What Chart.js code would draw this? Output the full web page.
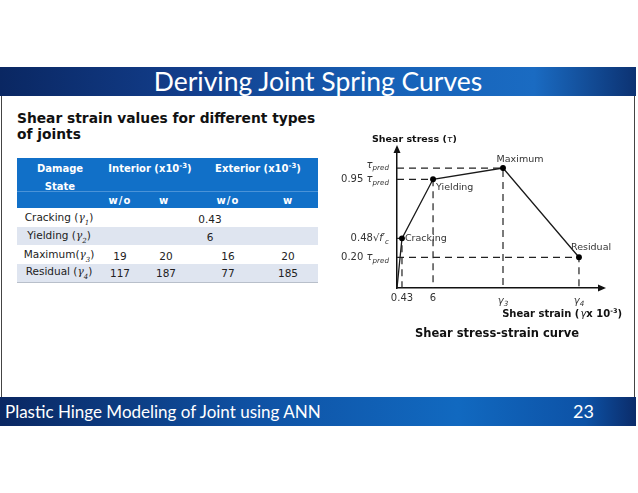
<!DOCTYPE html>
<html>
<head>
<meta charset="utf-8">
<script src="https://cdn.jsdelivr.net/npm/chart.js@4/dist/chart.umd.min.js"></script>
<style>
  html, body { margin: 0; padding: 0; background: #fff; }
  body { width: 638px; height: 493px; position: relative; overflow: hidden; font-family: "DejaVu Sans", sans-serif; }
  .frame { position: absolute; left: 1px; top: 67px; width: 632px; height: 358px; border-left: 1.5px solid #444; border-right: 1.5px solid #444; }
  .titlebar { position: absolute; left: 0; top: 67px; width: 636px; height: 29px;
    background: linear-gradient(90deg, #0a2762 0%, #123e8c 30%, #1762b8 62%, #1a6bc2 84%, #0c3272 100%);
    color: #fff; font-family: Lato, sans-serif; font-size: 26.5px; line-height: 29px; text-align: center; }
  .footer { position: absolute; left: 0; top: 397px; width: 636px; height: 29px;
    background: linear-gradient(90deg, #0a2762 0%, #0f52a4 40%, #1169c0 72%, #0d52a6 92%, #0b2c6a 100%);
    color: #fff; font-family: Lato, sans-serif; font-size: 17px; line-height: 29px; }
  .footer .left { position: absolute; left: 5px; }
  .footer .num { position: absolute; left: 573px; font-size: 18px; }
  .heading { position: absolute; left: 17px; top: 110px; font-weight: bold; font-size: 13.8px; line-height: 16px; color: #111; }
  .tbl { position: absolute; left: 17px; top: 158px; width: 301px; height: 124px; font-size: 10.5px; }
  .band { position: absolute; left: 0; width: 301px; }
  .t { position: absolute; transform: translate(-50%, -50%); white-space: nowrap; }
  .hd { color: #fff; font-weight: bold; font-size: 10px; }
  .hd.w { letter-spacing: 1px; }
  .body { color: #222; }
  i { font-family: "DejaVu Serif", serif; }
  sub { font-size: 7px; }
  sup { font-size: 7px; }
  #chartBox { position: absolute; left: 330px; top: 125px; width: 308px; height: 225px; }
</style>
</head>
<body>
<div class="frame"></div>
<div class="titlebar">Deriving Joint Spring Curves</div>
<div class="footer"><span class="left">Plastic Hinge Modeling of Joint using ANN</span><span class="num">23</span></div>
<div class="heading">Shear strain values for different types<br>of joints</div>
<div class="tbl" id="tbl"></div>
<div id="chartBox"><canvas id="curve"></canvas></div>
<script>
// ---- table data (x10^-3) ----
const stateNames = ['Cracking', 'Yielding', 'Maximum', 'Residual'];
const jointCols = ['w/o', 'w', 'w/o', 'w'];
const crackingStrain = 0.43;
const yieldingStrain = 6;
const maximumStrain = [19, 20, 16, 20];
const residualStrain = [117, 187, 77, 185];

// ---- schematic curve (not to scale) ----
const curveStrain = [0, 0.58, 4.2, 12.35, 21.2];   // position along strain axis
const curveStress = [0, 0.414, 0.906, 1.0, 0.256]; // in units of tau_pred
const strainTickLabels = ['0.43', '6', 'γ_3', 'γ_4'];
const stressTickLabels = ['0.48√f′_c', '0.95 τ_pred', 'τ_pred', '0.20 τ_pred'];

// build the table
const tbl = document.getElementById('tbl');
const colX = [42, 103, 149, 211, 271];
function cell(html, x, y, cls) {
  const d = document.createElement('div');
  d.className = 't ' + cls;
  d.style.left = x + 'px';
  d.style.top = y + 'px';
  d.innerHTML = html;
  tbl.appendChild(d);
}
function band(top, h, color) {
  const d = document.createElement('div');
  d.className = 'band';
  d.style.top = top + 'px';
  d.style.height = h + 'px';
  d.style.background = color;
  tbl.appendChild(d);
}
band(0, 50, '#1170c8');
band(33, 1, '#4a93d8');
band(69, 18, '#dfe5f0');
band(106, 18, '#dfe5f0');
band(123.5, 0.8, '#b8bfca');
cell('Damage', colX[0] + 1, 10, 'hd');
cell('State', colX[0] + 1, 28, 'hd');
cell('Interior (x10<sup>-3</sup>)', 133, 10, 'hd');
cell('Exterior (x10<sup>-3</sup>)', 241, 10, 'hd');
jointCols.forEach((c, i) => cell(c, colX[i + 1] + (i === 1 ? -2 : 0), 42, 'hd w'));
const rowY = [61, 79, 97.5, 115];
stateNames.forEach((s, i) => {
  const gap = s === 'Maximum' ? '' : ' ';
  cell(s + gap + '(<i>γ</i><sub><i>' + (i + 1) + '</i></sub>)', colX[0], rowY[i], 'body');
});
cell(crackingStrain.toFixed(2), 193, rowY[0], 'body');
cell(String(yieldingStrain), 193, rowY[1], 'body');
maximumStrain.forEach((v, i) => cell(v, colX[i + 1], rowY[2], 'body'));
residualStrain.forEach((v, i) => cell(v, colX[i + 1], rowY[3], 'body'));

// ---- chart ----
const curvePoints = curveStrain.map((x, i) => ({ x: x, y: curveStress[i] }));
const guideSets = curvePoints.slice(1).map(p => ({
  data: [{ x: 0, y: p.y }, { x: p.x, y: p.y }, { x: p.x, y: 0 }],
  showLine: true,
  borderColor: '#222',
  borderWidth: 1.2,
  borderDash: [7, 5],
  pointRadius: 0,
  clip: false
}));

// draw "base_sub" labels with italic greek and subscript
function richParts(label) {
  const [main, sub] = label.split('_');
  const parts = [];
  let buf = '', it = false;
  for (const ch of main) {
    const isIt = /[τγf′]/.test(ch);
    if (isIt !== it && buf) { parts.push({ t: buf, it: it }); buf = ''; }
    it = isIt; buf += ch;
  }
  if (buf) parts.push({ t: buf, it: it });
  if (sub) parts.push({ t: sub, it: true, sub: true });
  return parts;
}
function drawRich(ctx, label, x, y, align, size) {
  const parts = richParts(label);
  const fontOf = p => (p.it ? 'italic ' : '') + (p.sub ? size * 0.72 : size) + 'px "DejaVu Sans"';
  let w = 0;
  parts.forEach(p => { ctx.font = fontOf(p); w += ctx.measureText(p.t).width; });
  let cx = align === 'right' ? x - w : align === 'center' ? x - w / 2 : x;
  ctx.textBaseline = 'middle';
  ctx.textAlign = 'left';
  parts.forEach(p => {
    ctx.font = fontOf(p);
    ctx.fillText(p.t, cx, p.sub ? y + size * 0.35 : y);
    cx += ctx.measureText(p.t).width;
  });
}

const labelOffsets = [[3, 0, 'left'], [3, 8, 'left'], [17, -9, 'center'], [-8, -10, 'left']];

const sketchPlugin = {
  id: 'sketch',
  afterDraw(chart) {
    const { ctx, chartArea: a, scales: { x, y } } = chart;
    ctx.save();
    ctx.fillStyle = '#111';
    // arrowheads
    ctx.beginPath();
    ctx.moveTo(a.right + 3, a.bottom); ctx.lineTo(a.right - 5, a.bottom - 3.5); ctx.lineTo(a.right - 5, a.bottom + 3.5);
    ctx.closePath(); ctx.fill();
    ctx.beginPath();
    ctx.moveTo(a.left, a.top - 3); ctx.lineTo(a.left - 3.5, a.top + 5); ctx.lineTo(a.left + 3.5, a.top + 5);
    ctx.closePath(); ctx.fill();
    ctx.fillStyle = '#333';
    // strain ticks
    strainTickLabels.forEach((l, i) => {
      const dy = l.indexOf('γ') >= 0 ? 13 : 10;
      drawRich(ctx, l, x.getPixelForValue(curveStrain[i + 1]), a.bottom + dy, 'center', 10);
    });
    // stress ticks
    stressTickLabels.forEach((l, i) => {
      const dy = i === 2 ? -3 : 0;
      drawRich(ctx, l, a.left - 8, y.getPixelForValue(curveStress[i + 1]) + dy, 'right', 10);
    });
    // state labels
    ctx.font = '9.5px "DejaVu Sans"';
    ctx.fillStyle = '#333';
    ctx.textBaseline = 'middle';
    stateNames.forEach((s, i) => {
      const o = labelOffsets[i];
      ctx.textAlign = o[2];
      ctx.fillText(s, x.getPixelForValue(curveStrain[i + 1]) + o[0], y.getPixelForValue(curveStress[i + 1]) + o[1]);
    });
    // axis titles and caption
    ctx.fillStyle = '#111';
    ctx.font = 'bold 9.5px "DejaVu Sans"';
    ctx.textAlign = 'left';
    ctx.fillText('Shear stress (', a.left - 25, a.top - 8);
    let tw = ctx.measureText('Shear stress (').width;
    ctx.font = 'italic 9.5px "DejaVu Sans"';
    ctx.fillText('τ', a.left - 25 + tw, a.top - 8);
    tw += ctx.measureText('τ').width;
    ctx.font = 'bold 9.5px "DejaVu Sans"';
    ctx.fillText(')', a.left - 25 + tw, a.top - 8);

    const xt = a.right + 19, yt = a.bottom + 26;
    ctx.font = 'bold 10px "DejaVu Sans"';
    ctx.textAlign = 'right';
    ctx.fillText(')', xt, yt);
    let r = xt - ctx.measureText(')').width;
    ctx.font = 'bold 6.5px "DejaVu Sans"';
    ctx.fillText('-3', r, yt - 3);
    r -= ctx.measureText('-3').width;
    ctx.font = 'bold 10px "DejaVu Sans"';
    ctx.fillText('x 10', r, yt);
    r -= ctx.measureText('x 10').width;
    ctx.font = 'italic 10px "DejaVu Sans"';
    ctx.fillText('γ', r, yt);
    r -= ctx.measureText('γ').width + 1;
    ctx.font = 'bold 10px "DejaVu Sans"';
    ctx.fillText('Shear strain (', r, yt);

    ctx.font = 'bold 11.5px "DejaVu Sans"';
    ctx.textAlign = 'center';
    ctx.fillStyle = '#111';
    ctx.fillText('Shear stress-strain curve', 167, 209);
    ctx.restore();
  }
};

new Chart(document.getElementById('curve'), {
  type: 'scatter',
  data: {
    datasets: [{
      data: curvePoints,
      showLine: true,
      borderColor: '#1a1a1a',
      borderWidth: 1.3,
      pointRadius: [0, 2.3, 2.3, 2.3, 2.3],
      pointBackgroundColor: '#000',
      pointBorderColor: '#000',
      clip: false
    }].concat(guideSets)
  },
  options: {
    responsive: true,
    maintainAspectRatio: false,
    animation: false,
    layout: { padding: { left: 67, right: 35, top: 23, bottom: 62 } },
    plugins: { legend: { display: false }, tooltip: { enabled: false } },
    scales: {
      x: { type: 'linear', min: 0, max: 24, grid: { display: false, drawTicks: false },
           ticks: { display: false }, border: { color: '#111', width: 1.5 } },
      y: { type: 'linear', min: 0, max: 1.167, grid: { display: false, drawTicks: false },
           ticks: { display: false }, border: { color: '#111', width: 1.5 } }
    }
  },
  plugins: [sketchPlugin]
});
</script>
</body>
</html>
